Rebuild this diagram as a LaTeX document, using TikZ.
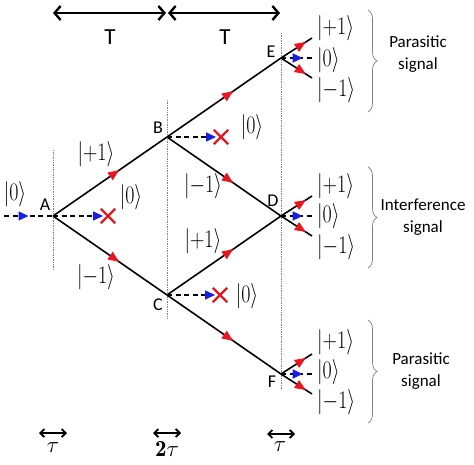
\RequirePackage{fix-cm}
\documentclass[tikz,border=0pt]{standalone}
\usepackage{fontspec}
\setsansfont{Carlito}
\usetikzlibrary{arrows.meta,decorations.markings,decorations.pathreplacing,shapes.misc}
\definecolor{myred}{RGB}{232,22,32}
\definecolor{myblue}{RGB}{22,32,228}
\newcommand\myket[1]{\scalebox{0.95}[1.2]{$|#1\rangle$}}
\begin{document}
\begin{tikzpicture}[x=1pt,y=-1pt,
  branch/.style={line width=1.6pt,postaction={decorate},
    decoration={markings,mark=at position #1 with {\arrow[myred]{Triangle[length=11pt,width=9pt]}}}},
  zeroline/.style={line width=1.4pt,dash pattern=on 5pt off 3.5pt},
  bluemid/.style={postaction={decorate},
    decoration={markings,mark=at position #1 with {\arrow[myblue]{Triangle[length=10pt,width=9pt]}}}},
  blueend/.style={-{Triangle[length=10pt,width=9pt,color=myblue]}},
  xmk/.style={cross out,draw=myred,line width=2.4pt,minimum size=12pt,inner sep=0pt},
  vguide/.style={gray,densely dotted,line width=0.7pt},
  ptlabel/.style={font=\fontsize{18}{20}\sffamily,inner sep=0pt},
  ketlabel/.style={font=\fontsize{21}{24}\selectfont,inner sep=0pt},
  sig/.style={font=\fontsize{17}{22}\sffamily,align=center,inner sep=0pt},
  brc/.style={gray,line width=0.7pt,decorate,decoration={brace,amplitude=9pt}},
  bigspan/.style={line width=2.4pt,{Straight Barb[length=6pt,width=14pt]}-{Straight Barb[length=6pt,width=14pt]}},
  smallspan/.style={line width=1.8pt,{Straight Barb[length=4pt,width=8pt]}-{Straight Barb[length=4pt,width=8pt]}},
  taulabel/.style={font=\fontsize{23}{25}\selectfont,inner sep=0pt}
]
\useasboundingbox (0,0) rectangle (474,465);

% main points
\coordinate (A) at (53,216);
\coordinate (B) at (167,137);
\coordinate (C) at (167,295);
\coordinate (E) at (281,58);
\coordinate (D) at (281,216);
\coordinate (F) at (281,374);

% guides
\coordinate (gAt) at (53,150); \coordinate (gAb) at (53,270);
\coordinate (gBt) at (167,100); \coordinate (gBb) at (167,318);
\coordinate (gEt) at (281,33); \coordinate (gEb) at (281,390);
\draw[vguide] (gAt) -- (gAb);
\draw[vguide] (gBt) -- (gBb);
\draw[vguide] (gEt) -- (gEb);

% branches
\draw[branch=0.58] (A) -- (B);
\draw[branch=0.58] (A) -- (C);
\draw[branch=0.58] (B) -- (E);
\draw[branch=0.58] (B) -- (D);
\draw[branch=0.58] (C) -- (D);
\draw[branch=0.58] (C) -- (F);

% input
\coordinate (in) at (4,216);
\draw[zeroline,bluemid=0.5] (in) -- (A);

% dead |0> lines
\coordinate (Aend) at (103,216);
\coordinate (Bend) at (216,137);
\coordinate (Cend) at (215,295);
\draw[zeroline,blueend] (A) -- (Aend);
\draw[zeroline,blueend] (B) -- (Bend);
\draw[zeroline,blueend] (C) -- (Cend);
\node[xmk] (XA) at (108,216) {};
\node[xmk] (XB) at (221,137) {};
\node[xmk] (XC) at (220,295) {};

% outputs
\foreach \P/\y in {E/58,D/216,F/374}{
  \coordinate (\P p) at (312,\y-20);
  \coordinate (\P m) at (312,\y+20);
  \coordinate (\P z) at (312,\y);
  \draw[branch=0.8] (\P) -- (\P p);
  \draw[branch=0.8] (\P) -- (\P m);
  \draw[zeroline,bluemid=0.7] (\P) -- (\P z);
}

% point labels
\node[ptlabel] (lA) at (45,205) {A};
\node[ptlabel] (lB) at (158,128) {B};
\node[ptlabel] (lC) at (158,305) {C};
\node[ptlabel] (lD) at (273,201) {D};
\node[ptlabel] (lE) at (271,52) {E};
\node[ptlabel] (lF) at (272,382) {F};

% kets
\node[ketlabel] (k0in) at (15,194) {\myket{0}};
\node[ketlabel] (kAp) at (96,154) {\myket{{+}1}};
\node[ketlabel] (kA0) at (131,197) {\myket{0}};
\node[ketlabel] (kAm) at (96,277) {\myket{{-}1}};
\node[ketlabel] (kB0) at (252,127) {\myket{0}};
\node[ketlabel] (kBm) at (203,186) {\myket{{-}1}};
\node[ketlabel] (kCp) at (203,241) {\myket{{+}1}};
\node[ketlabel] (kC0) at (247,296) {\myket{0}};

\node[ketlabel,anchor=west] (kEp) at (317,28) {\myket{{+}1}};
\node[ketlabel,anchor=west] (kE0) at (317,60) {\myket{0}};
\node[ketlabel,anchor=west] (kEm) at (317,90) {\myket{{-}1}};
\node[ketlabel,anchor=west] (kDp) at (317,186) {\myket{{+}1}};
\node[ketlabel,anchor=west] (kD0) at (317,216) {\myket{0}};
\node[ketlabel,anchor=west] (kDm) at (317,247) {\myket{{-}1}};
\node[ketlabel,anchor=west] (kFp) at (317,342) {\myket{{+}1}};
\node[ketlabel,anchor=west] (kF0) at (317,372) {\myket{0}};
\node[ketlabel,anchor=west] (kFm) at (317,402) {\myket{{-}1}};

% braces and signal texts
\coordinate (b1t) at (368,10);  \coordinate (b1b) at (368,112);
\coordinate (b2t) at (368,167); \coordinate (b2b) at (368,268);
\coordinate (b3t) at (368,320); \coordinate (b3b) at (368,423);
\draw[brc] (b1t) -- (b1b);
\draw[brc] (b2t) -- (b2b);
\draw[brc] (b3t) -- (b3b);
\node[sig] (s1) at (418,54) {Parasitic\\signal};
\node[sig] (s2) at (423,217) {Interference\\signal};
\node[sig] (s3) at (421,371) {Parasitic\\signal};

% top T spans
\coordinate (T1l) at (53,13); \coordinate (T1r) at (166,13);
\coordinate (T2l) at (168,13); \coordinate (T2r) at (280,13);
\draw[bigspan] (T1l) -- (T1r);
\draw[bigspan] (T2l) -- (T2r);
\node[font=\fontsize{23}{25}\sffamily,inner sep=0pt] (T1) at (110,37) {T};
\node[font=\fontsize{23}{25}\sffamily,inner sep=0pt] (T2) at (225,37) {T};

% bottom tau spans
\coordinate (t1l) at (39,433); \coordinate (t1r) at (67,433);
\coordinate (t2l) at (153,433); \coordinate (t2r) at (181,433);
\coordinate (t3l) at (267,434); \coordinate (t3r) at (295,434);
\draw[smallspan] (t1l) -- (t1r);
\draw[smallspan] (t2l) -- (t2r);
\draw[smallspan] (t3l) -- (t3r);
\node[taulabel] (tau1) at (53,448) {$\tau$};
\node[taulabel] (tau2) at (167,449) {$\mathbf{2}\tau$};
\node[taulabel] (tau3) at (280,447) {$\tau$};
\end{tikzpicture}
\end{document}
